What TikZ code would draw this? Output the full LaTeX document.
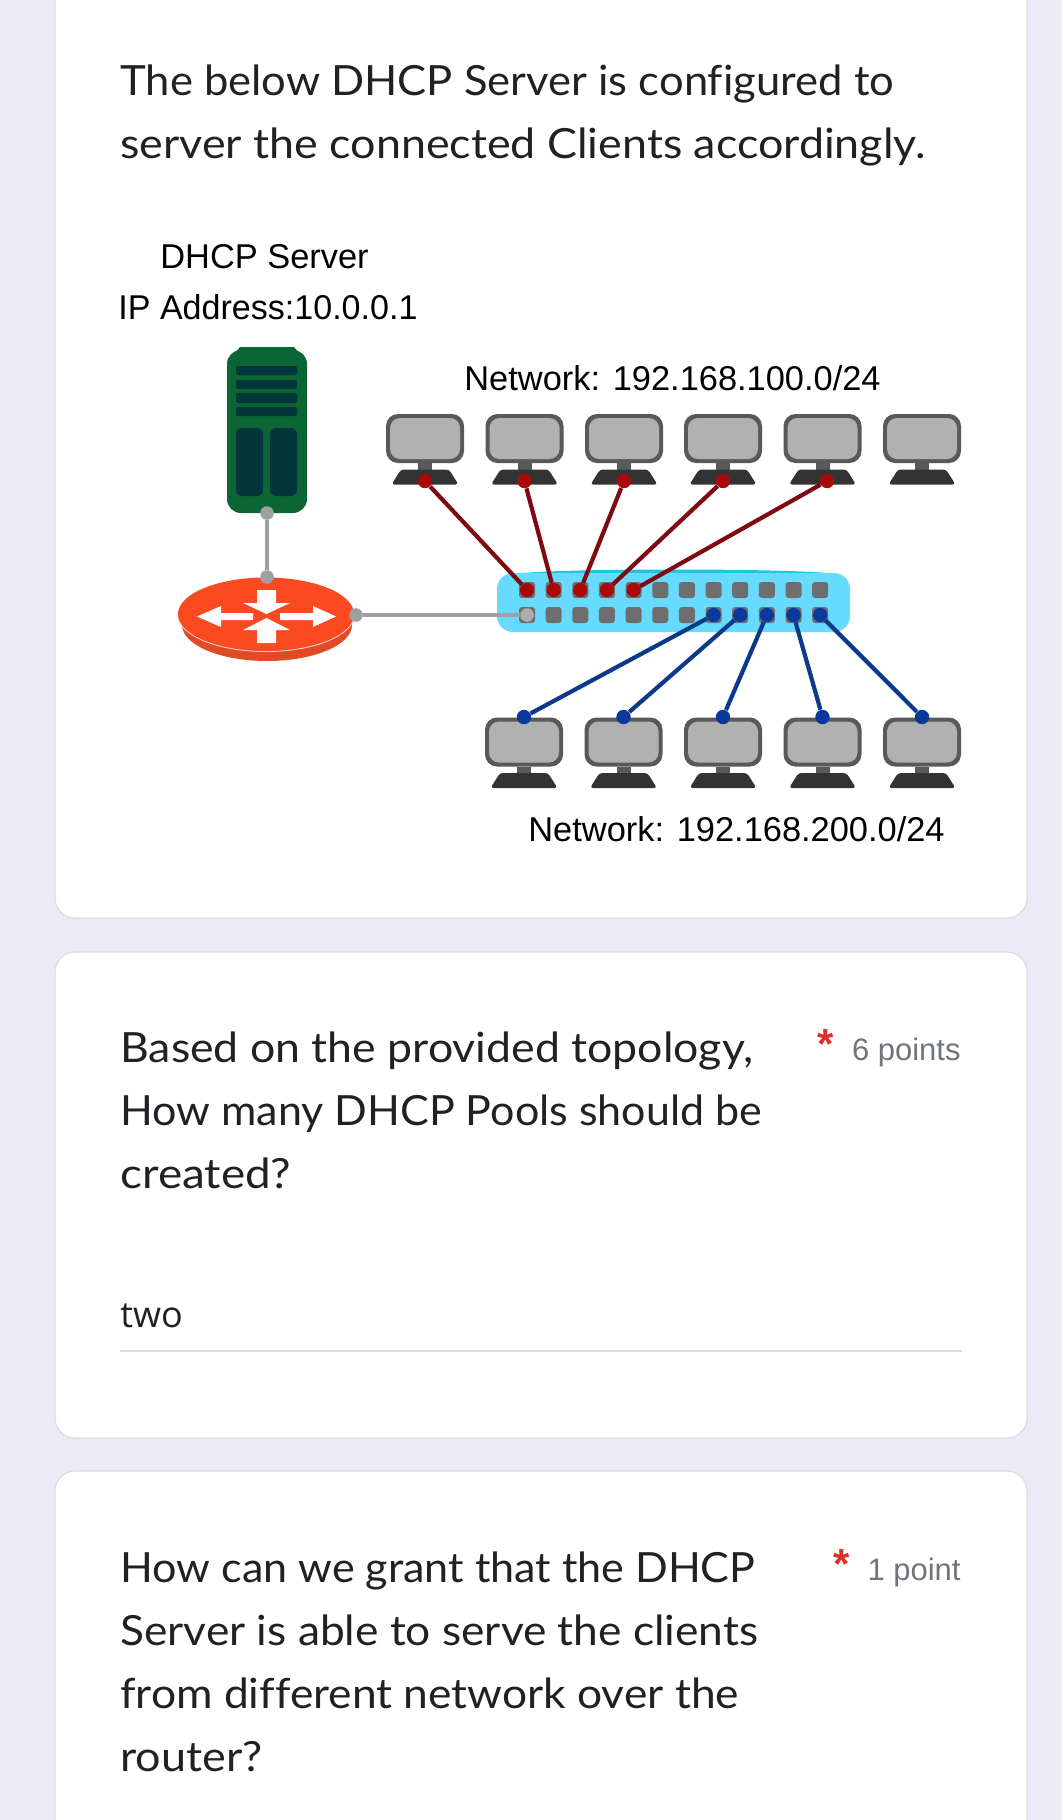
\documentclass[tikz,border=0pt]{standalone}
\usepackage{fontspec}
\setmainfont[FakeStretch=1.08,Ligatures=NoCommon]{Lato}
\newfontfamily\arial{Liberation Sans}
\newfontfamily\rob{Open Sans}
\definecolor{bgc}{HTML}{EDEAF8}
\definecolor{cardline}{HTML}{DADCE0}
\definecolor{ink}{HTML}{202124}
\definecolor{gr}{HTML}{70757A}
\definecolor{starred}{HTML}{D93025}
\definecolor{monout}{HTML}{58595B}
\definecolor{monin}{HTML}{B1B1B1}
\definecolor{baseC}{HTML}{333333}
\definecolor{srv}{HTML}{0B6633}
\definecolor{srvd}{HTML}{03363A}
\definecolor{rtr}{HTML}{FB4A21}
\definecolor{rtrd}{HTML}{E04A25}
\definecolor{swc}{HTML}{66DBFF}
\definecolor{swt}{HTML}{22C4E0}
\definecolor{port}{HTML}{6E6E6E}
\definecolor{conn}{HTML}{A0A0A0}
\definecolor{redl}{HTML}{7E0A12}
\definecolor{redd}{HTML}{A80A0A}
\definecolor{bluel}{HTML}{0B3A8C}
\definecolor{blued}{HTML}{0A389C}
\tikzset{
  question/.style={anchor=base west,inner sep=0pt,font=\fontsize{20.8}{24}\selectfont,text=ink,xscale=#1,transform shape},
  question/.default=1,
  netlabel/.style={anchor=base west,inner sep=0pt,font=\arial\fontsize{17.2}{21}\selectfont,text=black},
  pts/.style={anchor=base east,inner sep=0pt,font=\arial\fontsize{15.5}{18}\selectfont,text=gr},
  star/.style={anchor=center,inner sep=0pt,font=\arial\bfseries\fontsize{21}{24}\selectfont,text=starred},
  card/.style={draw=cardline,line width=0.6pt,fill=white,rounded corners=10pt},
  portbox/.style={draw=none,fill=port,rounded corners=1.5pt,minimum size=8pt,inner sep=0pt},
  dot/.style={circle,inner sep=0pt,minimum size=#1},
  reddot/.style={dot=7.2pt,fill=redd},
  bluedot/.style={dot=7.2pt,fill=blued},
  greydot/.style={dot=6.8pt,fill=conn},
  redwire/.style={draw=redl,line width=2.1pt},
  bluewire/.style={draw=bluel,line width=2.1pt},
  greywire/.style={draw=conn,line width=1.7pt},
  computer/.pic={
    \fill[monout,rounded corners=6pt] (-39,-24.5) rectangle (39,24.5);
    \fill[monin,rounded corners=5pt] (-35,-20.5) rectangle (35,20.5);
    \fill[monout] (-7,24.5) rectangle (7,31);
    \fill[baseC,rounded corners=1.5pt] (-24,31) -- (24,31) -- (33.5,46) -- (-33.5,46) -- cycle;
  }
}
\begin{document}
\begin{tikzpicture}[x=0.5pt,y=-0.5pt]
\useasboundingbox (0,0) rectangle (1062,1820);
\clip (0,0) rectangle (1062,1820);
\fill[bgc] (0,0) rectangle (1062,1820);
% cards
\path[card] (55,-40) rectangle (1027,918);
\path[card] (55,952) rectangle (1027,1438);
\path[card] (55,1471) rectangle (1027,1880);
% card texts
\node[question=0.969] (t1) at (120,95) {The below DHCP Server is configured to};
\node[question=0.997] (t2) at (120,158) {server the connected Clients accordingly.};
\node[question=0.993] (q1) at (120,1062) {Based on the provided topology,};
\node[question=0.957] (q2) at (120,1125) {How many DHCP Pools should be};
\node[question=1.02] (q3) at (120,1188) {created?};
\node[question,font=\rob\fontsize{18}{22}\selectfont] (ans) at (120,1327) {two};
\draw[cardline,line width=0.6pt] (120,1351) -- (962,1351);
\node[question=0.958] (r1) at (120,1582) {How can we grant that the DHCP};
\node[question=0.986] (r2) at (120,1645) {Server is able to serve the clients};
\node[question=0.987] (r3) at (120,1708) {from different network over the};
\node[question] (r4) at (120,1771) {router?};
\node[star] (s1) at (826,1044) {*};
\node[pts] (p6) at (961,1060) {6 points};
\node[star] (s2) at (842,1564) {*};
\node[pts] (p7) at (961,1580) {1 point};
% labels
\node[netlabel] (lserver) at (160,268) {DHCP Server};
\node[netlabel,xscale=0.99,transform shape] (lip) at (118,319) {IP Address:10.0.0.1};
\node[netlabel] (ln1) at (464,390) {Network: 192.168.100.0/24};
\node[netlabel] (ln2) at (528,841) {Network: 192.168.200.0/24};
% server
\fill[srv] (240,347) -- (294,347) -- (298,352) -- (236,352) -- cycle;
\fill[srv,rounded corners=7pt] (227,350) rectangle (307,513);
\foreach \ya/\yb in {366/375,380/389,393/403,407/416}
  \fill[srvd,rounded corners=1pt] (236,\ya) rectangle (297,\yb);
\fill[srvd,rounded corners=3pt] (236,428) rectangle (263,496);
\fill[srvd,rounded corners=3pt] (270,428) rectangle (297,496);
% router
\fill[rtrd] (267,625) ellipse [x radius=85,y radius=36];
\draw[white!70!rtr,line width=0.5pt] (266,615) ellipse [x radius=88,y radius=36.5];
\fill[rtr] (266,614) ellipse [x radius=88,y radius=36.5];
\fill[white] (197,616.5) -- (221,606) -- (221,613) -- (253,613) -- (253,620) -- (221,620) -- (221,627) -- cycle;
\fill[white] (336,616.5) -- (313,606) -- (313,613) -- (280,613) -- (280,620) -- (313,620) -- (313,627) -- cycle;
\fill[white] (257,590) -- (276,590) -- (276,603) -- (290,603) -- (266.5,614) -- (243,603) -- (257,603) -- cycle;
\fill[white] (257,643) -- (276,643) -- (276,630) -- (290,630) -- (266.5,618) -- (243,630) -- (257,630) -- cycle;
% switch
\fill[swt] (515,574) .. controls (550,568) and (800,568) .. (835,574) -- cycle;
\fill[swc,rounded corners=8pt] (497,573) rectangle (850,632);
\foreach \i in {1,...,12}{
  \pgfmathsetmacro\px{527+(\i-1)*26.65}
  \node[portbox] (a\i) at (\px,590) {};
  \node[portbox] (b\i) at (\px,615) {};
}
% computers
\foreach \c/\cx in {1/425,2/524.5,3/624,4/723,5/822.5,6/922}
  \pic at (\cx,438.5) {computer};
\foreach \c/\cx in {1/524,2/623.5,3/723,4/822.5,5/922}
  \pic at (\cx,742) {computer};
% end points
\foreach \i/\cx in {1/425,2/524.5,3/624,4/723,5/827}{
  \node[reddot] (tc\i) at (\cx,481) {};
  \node[reddot] (rp\i) at (a\i) {};
}
\foreach \i/\cx/\n in {1/524/8,2/623.5/9,3/723/10,4/822.5/11,5/922/12}{
  \node[bluedot] (bc\i) at (\cx,717) {};
  \node[bluedot] (bp\i) at (b\n) {};
}
\node[greydot] (srvp) at (267,513) {};
\node[greydot] (rtop) at (267,577) {};
\node[greydot] (rrgt) at (356,615) {};
\node[greydot,fill=conn!85!white] (swp) at (b1) {};
% connectors
\foreach \i in {1,...,5}{
  \draw[redwire] (tc\i) -- (rp\i);
  \draw[bluewire] (bc\i) -- (bp\i);
}
\draw[greywire] (srvp) -- (rtop);
\draw[greywire] (rrgt) -- (swp);
\end{tikzpicture}
\end{document}
